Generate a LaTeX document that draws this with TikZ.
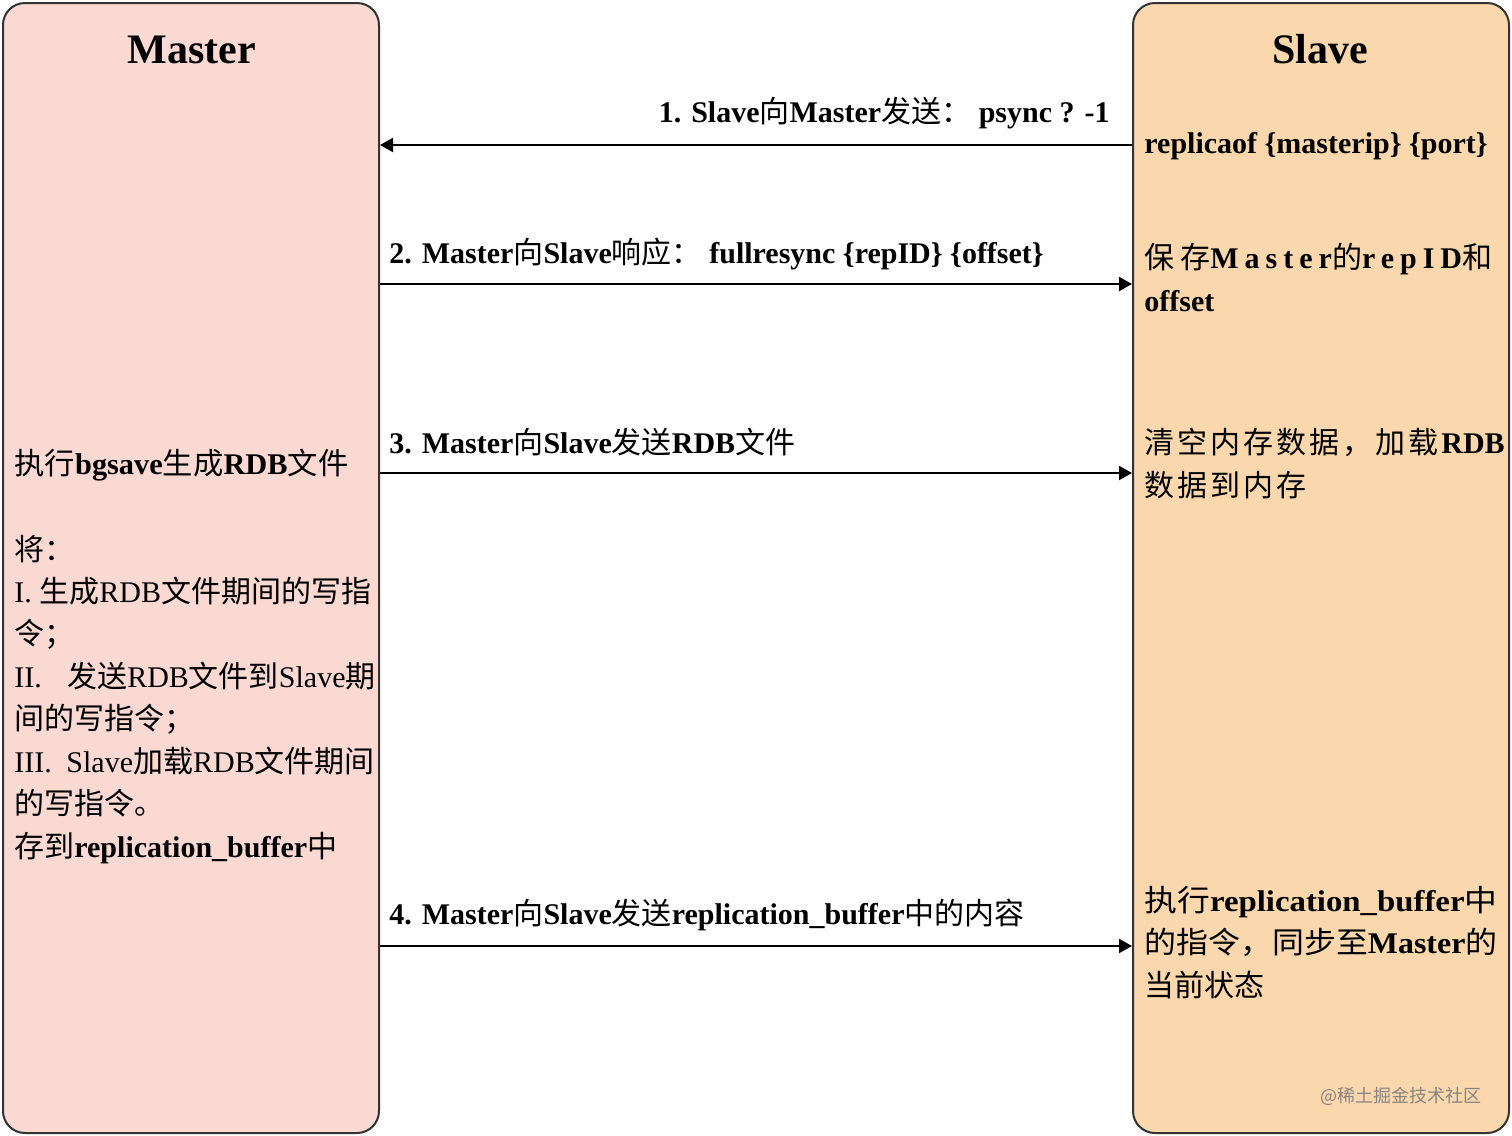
\documentclass[tikz,border=0pt]{standalone}
\usepackage{fontspec}
\usepackage{graphicx}
\usetikzlibrary{arrows.meta}
\setmainfont{Liberation Serif}
\newfontfamily\zhfont{Noto Sans CJK SC}
\newfontfamily\zhlsA{Noto Sans CJK SC}[LetterSpace=10]
\newfontfamily\zhlsB{Noto Sans CJK SC}[LetterSpace=20]
\newfontfamily\serls{Liberation Serif}[LetterSpace=20]
\newcommand\zh[1]{{\zhfont\mdseries #1}}
\newsavebox\fitbox
\newcommand\fitw[2]{\sbox\fitbox{#2}\pgfmathsetmacro\fitr{#1/\wd\fitbox}\scalebox{\fitr}[1]{\usebox\fitbox}}
\definecolor{masterfill}{HTML}{FBD9D3}
\definecolor{slavefill}{HTML}{FAD7AC}
\definecolor{edge}{HTML}{333333}
\definecolor{wm}{HTML}{8A8580}
\begin{document}
\begin{tikzpicture}[x=0.5pt,y=-0.5pt,
  lane/.style={draw=edge,line width=1pt,rounded corners=11pt,inner sep=0pt,
    minimum width=188pt,minimum height=565pt},
  ttl/.style={anchor=base,inner sep=0pt,font=\fontsize{21pt}{25pt}\selectfont\bfseries},
  txt/.style={anchor=base west,inner sep=0pt,font=\fontsize{15pt}{21pt}\selectfont},
  lbl/.style={txt,font=\fontsize{15pt}{21pt}\selectfont\bfseries},
  arr/.style={draw=black,line width=1pt,-{Triangle[length=6.5pt,width=7pt]}}]
\useasboundingbox (0,0) rectangle (1512,1136);
\node[lane,fill=masterfill] (master) at (191,568) {};
\node[lane,fill=slavefill] (slave) at (1321,568) {};
\node[ttl] (mt) at (192,63) {Master};
\node[ttl] (st) at (1320,63) {Slave};
% arrows
\draw[arr] (slave.west |- 0,145) -- (master.east |- 0,145);
\draw[arr] (master.east |- 0,284) -- (slave.west |- 0,284);
\draw[arr] (master.east |- 0,473) -- (slave.west |- 0,473);
\draw[arr] (master.east |- 0,946) -- (slave.west |- 0,946);
% arrow labels
\node[lbl,anchor=base east] (l1) at (1110,122) {1. Slave\zh{向}Master\zh{发送：} psync ? -1};
\node[lbl] (l2) at (389,263) {2. Master\zh{向}Slave\zh{响应：} fullresync \{repID\} \{offset\}};
\node[lbl] (l3) at (389,453) {3. Master\zh{向}Slave\zh{发送}RDB\zh{文件}};
\node[lbl] (l4) at (389,924) {4. Master\zh{向}Slave\zh{发送}replication\_buffer\zh{中的内容}};
% slave texts
\node[lbl] (s1) at (1144,153) {replicaof \{masterip\} \{port\}};
\node[txt] (s2) at (1144,268) {{\zhlsB 保存}{\serls\bfseries Master}{\zhlsB 的}{\serls\bfseries repID}{\zhlsB 和}};
\node[lbl] (s3) at (1144,311) {offset};
\node[txt] (s4) at (1144,453) {{\zhlsA 清空内存数据，加载}\textbf{RDB}};
\node[txt] (s5) at (1144,496) {{\zhlsA 数据到内存}};
\node[txt] (s6) at (1144,911) {\fitw{176.5pt}{\bfseries\zh{执行}replication\_buffer\zh{中}}};
\node[txt] (s7) at (1144,953) {\fitw{176.5pt}{\bfseries\zh{的指令，同步至}Master\zh{的}}};
\node[txt] (s8) at (1144,996) {\zh{当前状态}};
% master texts
\node[txt] (m1) at (14,474) {\fitw{167pt}{\bfseries\zh{执行}bgsave\zh{生成}RDB\zh{文件}}};
\node[txt] (m2) at (14,560) {\zh{将：}};
\node[txt] (m3) at (14,602) {I. \zh{生成}RDB\zh{文件期间的写指}};
\node[txt] (m4) at (14,644) {\zh{令；}};
\node[txt] (m5) at (14,687) {II.\hspace{12.7pt}\zh{发送}RDB\zh{文件到}Slave\zh{期}};
\node[txt] (m6) at (14,729) {\zh{间的写指令；}};
\node[txt] (m7) at (14,772) {III.\hspace{7.3pt}Slave\zh{加载}RDB\zh{文件期间}};
\node[txt] (m8) at (14,814) {\zh{的写指令。}};
\node[txt] (m9) at (14,857) {\zh{存到}\textbf{replication\_buffer}\zh{中}};
% watermark
\node[anchor=east,inner sep=0pt,text=wm,font=\fontsize{9pt}{11pt}\selectfont\zhfont] (wmk) at (1482,1096) {@稀土掘金技术社区};
\end{tikzpicture}
\end{document}
